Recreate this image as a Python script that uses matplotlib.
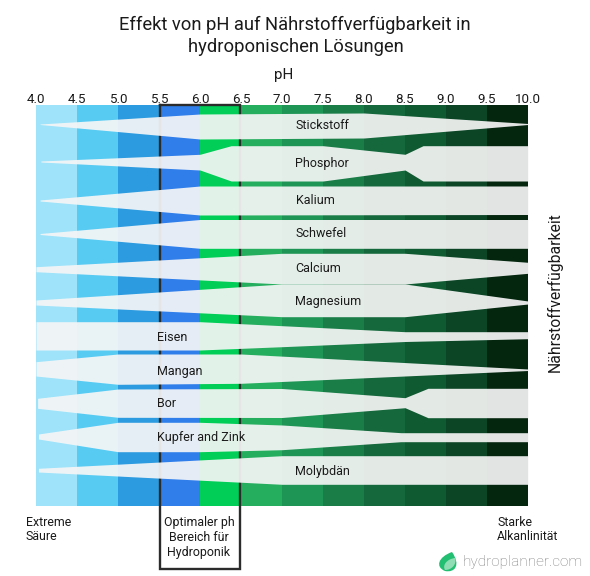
import matplotlib
matplotlib.use("Agg")
import matplotlib.pyplot as plt
from matplotlib.patches import PathPatch
from matplotlib.path import Path

plt.rcParams["font.family"] = ["Roboto", "DejaVu Sans"]

W, H = 590, 576

# =========================
# DATA
# =========================
ph_ticks = [4.0, 4.5, 5.0, 5.5, 6.0, 6.5, 7.0, 7.5, 8.0, 8.5, 9.0, 9.5, 10.0]
ph_colors = ["#9FE3FA", "#58CBF3", "#2D9BDF", "#2F7EEA", "#00CE56", "#25AE5E",
             "#1F9555", "#1A7D48", "#15683C", "#0F5A30", "#0B4526", "#04260F"]

names = ["Stickstoff", "Phosphor", "Kalium", "Schwefel", "Calcium", "Magnesium",
         "Eisen", "Mangan", "Bor", "Kupfer and Zink", "Molybdän"]

stick_ph = [4.05, 6.0, 8.0, 10.0]
stick_top = [124, 114, 113, 123.5]
stick_bot = [124.5, 139, 138, 124.5]

phos_ph = [4.06, 6.0, 6.38, 7.5, 8.5, 8.72, 10.0]
phos_top = [161, 154.3, 145.7, 145.7, 154.3, 145.7, 145.7]
phos_bot = [162, 170, 181, 181, 170, 181, 181]

kali_ph = [4.05, 6.0, 10.0]
kali_top = [200, 186, 186]
kali_bot = [201, 215, 214.5]

schw_ph = [4.05, 6.0, 10.0]
schw_top = [233.5, 219.5, 219.5]
schw_bot = [234.5, 248.3, 248.3]

calc_ph = [4.0, 7.0, 8.5, 10.0]
calc_top = [266.7, 253.3, 253.3, 262.3]
calc_bot = [271.7, 284, 284, 273.3]

magn_ph = [4.0, 7.0, 8.5, 10.0]
magn_top = [300, 284, 284, 301]
magn_bot = [305, 316.7, 316.7, 304]

eisen_ph = [4.0, 6.0, 7.0, 8.5, 10.0]
eisen_top = [321.7, 321.7, 325.7, 331.7, 331.7]
eisen_bot = [350, 350, 346.7, 341.5, 338.7]

mang_ph = [4.0, 5.0, 6.5, 10.0]
mang_top = [361.7, 354, 354, 369]
mang_bot = [376, 384.3, 383.3, 370.5]

bor_ph = [4.02, 5.0, 7.0, 8.5, 8.78, 10.0]
bor_top = [398.3, 389, 388.5, 397.7, 388.3, 388.3]
bor_bot = [408.3, 417.3, 417.5, 407.7, 417.7, 417.7]

kupf_ph = [4.03, 5.0, 6.0, 7.0, 8.45, 10.0]
kupf_top = [434, 422.3, 422.3, 425, 432.7, 432.7]
kupf_bot = [439, 451.7, 451.7, 449.7, 441.7, 441.7]

moly_ph = [4.03, 7.0, 10.0]
moly_top = [468.3, 455.7, 455.7]
moly_bot = [472, 484.3, 484.3]

bands_ph = [stick_ph, phos_ph, kali_ph, schw_ph, calc_ph, magn_ph,
            eisen_ph, mang_ph, bor_ph, kupf_ph, moly_ph]
bands_top = [stick_top, phos_top, kali_top, schw_top, calc_top, magn_top,
             eisen_top, mang_top, bor_top, kupf_top, moly_top]
bands_bot = [stick_bot, phos_bot, kali_bot, schw_bot, calc_bot, magn_bot,
             eisen_bot, mang_bot, bor_bot, kupf_bot, moly_bot]

label_ph = [7.17, 7.16, 7.17, 7.16, 7.16, 7.16, 5.47, 5.47, 5.47, 5.47, 7.16]
label_y = [125.5, 163, 200.5, 233.5, 268.5, 301.5, 337.5, 371.5, 403.5, 437.5, 471.5]

# =========================
# FIGURE
# =========================
fig = plt.figure(figsize=(W / 100, H / 100), dpi=100)
ax = fig.add_axes([36 / W, 1 - 505.5 / H, 492 / W, 400.5 / H])
ax.set_xlim(4, 10)
ax.set_ylim(505.5, 105)


def px_text(x, y, s, **kw):
    fig.text(x / W, 1 - y / H, s, va="center", color="#1A1A1A", **kw)


# pH columns
for left, right, col in zip(ph_ticks[:-1], ph_ticks[1:], ph_colors):
    ax.bar(left, 400.5, width=right - left, bottom=105, align="edge",
           color=col, linewidth=0, zorder=1)

# optimal range box, runs below the axes
box_ph = [5.51, 5.51, 6.49, 6.49, 5.51]
box_y = [105, 569, 569, 105, 105]
ax.plot(box_ph, box_y, color="#2B2B2B", lw=1.7, clip_on=False, zorder=2,
        solid_joinstyle="miter")

# nutrient bands
for ph, top, bot, name, lx, ly in zip(bands_ph, bands_top, bands_bot, names, label_ph, label_y):
    ax.fill_between(ph, top, bot, color="#F6F6F6", alpha=0.92, linewidth=0, zorder=3)
    ax.text(lx, ly, name, fontsize=9, color="#1A1A1A", va="center", ha="left", zorder=4)

# axis
ax.xaxis.tick_top()
ax.set_xticks(ph_ticks)
ax.set_xticklabels([f"{t:.1f}" for t in ph_ticks], fontsize=9.6, color="#1A1A1A")
ax.tick_params(axis="x", length=0, pad=-0.5)
ax.set_yticks([])
for s in ax.spines.values():
    s.set_visible(False)

# texts around the chart
px_text(295, 24.5, "Effekt von pH auf Nährstoffverfügbarkeit in", fontsize=13.25, ha="center")
px_text(296, 46.5, "hydroponischen Lösungen", fontsize=13.25, ha="center")
px_text(284, 75, "pH", fontsize=11, ha="center")
px_text(555, 292, "Nährstoffverfügbarkeit", fontsize=11.35, ha="center", rotation=90)

px_text(26, 522, "Extreme", fontsize=8.9, ha="left")
px_text(26, 536, "Säure", fontsize=8.9, ha="left")
px_text(199, 522.5, "Optimaler ph", fontsize=8.9, ha="center")
px_text(199, 537.5, "Bereich für", fontsize=8.9, ha="center")
px_text(199, 552.5, "Hydroponik", fontsize=8.9, ha="center")
px_text(497, 522, "Starke", fontsize=8.9, ha="left")
px_text(497, 536, "Alkanlinität", fontsize=8.9, ha="left")

# logo
fig.text(462.5 / W, 1 - 562 / H, "hydroplanner.com", fontsize=11.1, color="#7F7F7F",
         fontweight="light", va="center", ha="left")


def leaf(points, color):
    verts = [(x / W, 1 - y / H) for x, y in points]
    codes = [Path.MOVETO] + [Path.CURVE4] * (len(verts) - 1)
    fig.add_artist(PathPatch(Path(verts, codes), facecolor=color, edgecolor="none",
                             transform=fig.transFigure))


leaf([(452, 552), (438, 557), (435, 567), (445, 571),
     (455, 573), (461, 565), (452, 552)], "#22BE72")
leaf([(455, 558), (447, 559), (442, 565), (445, 570),
     (452, 570), (457, 564), (455, 558)], "#8FDDB4")

fig.savefig("out.png", dpi=100)
